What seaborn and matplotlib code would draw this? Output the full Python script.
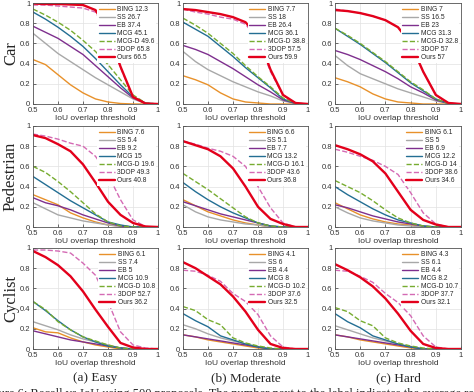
import matplotlib
matplotlib.use("Agg")
import matplotlib.pyplot as plt
import seaborn as sns

# IoU thresholds (x axis)
iou = [0.5, 0.55, 0.6, 0.65, 0.7, 0.75, 0.8, 0.85, 0.9, 0.95, 1.0]

methods = ["BING", "SS", "EB", "MCG", "MCG-D", "3DOP", "Ours"]
classes = ["Car", "Pedestrian", "Cyclist"]
levels = ["(a) Easy", "(b) Moderate", "(c) Hard"]

# recall curves
car_easy = {
    "BING":  [0.44, 0.39, 0.29, 0.19, 0.11, 0.05, 0.02, 0.005, 0.0, 0.0, 0.0],
    "SS":    [0.70, 0.60, 0.50, 0.42, 0.34, 0.26, 0.19, 0.12, 0.05, 0.005, 0.0],
    "EB":    [0.77, 0.71, 0.65, 0.57, 0.49, 0.38, 0.27, 0.16, 0.06, 0.005, 0.0],
    "MCG":   [0.91, 0.84, 0.76, 0.67, 0.57, 0.45, 0.32, 0.19, 0.07, 0.01, 0.0],
    "MCG-D": [0.94, 0.88, 0.81, 0.73, 0.63, 0.52, 0.39, 0.24, 0.09, 0.01, 0.0],
    "3DOP":  [0.98, 0.98, 0.97, 0.96, 0.95, 0.91, 0.71, 0.36, 0.07, 0.005, 0.0],
    "Ours":  [0.995, 0.99, 0.99, 0.985, 0.98, 0.93, 0.73, 0.37, 0.07, 0.005, 0.0],
}
car_moderate = {
    "BING":  [0.28, 0.24, 0.19, 0.11, 0.05, 0.02, 0.01, 0.0, 0.0, 0.0, 0.0],
    "SS":    [0.52, 0.42, 0.34, 0.28, 0.22, 0.17, 0.12, 0.08, 0.03, 0.005, 0.0],
    "EB":    [0.58, 0.54, 0.49, 0.42, 0.35, 0.27, 0.19, 0.12, 0.04, 0.005, 0.0],
    "MCG":   [0.81, 0.74, 0.67, 0.57, 0.47, 0.36, 0.26, 0.16, 0.05, 0.005, 0.0],
    "MCG-D": [0.85, 0.78, 0.70, 0.60, 0.50, 0.38, 0.27, 0.17, 0.06, 0.005, 0.0],
    "3DOP":  [0.94, 0.91, 0.89, 0.86, 0.84, 0.79, 0.64, 0.32, 0.09, 0.01, 0.0],
    "Ours":  [0.94, 0.93, 0.91, 0.89, 0.86, 0.81, 0.67, 0.34, 0.09, 0.01, 0.0],
}
car_hard = {
    "BING":  [0.26, 0.22, 0.17, 0.10, 0.05, 0.02, 0.01, 0.0, 0.0, 0.0, 0.0],
    "SS":    [0.48, 0.38, 0.30, 0.25, 0.20, 0.15, 0.11, 0.07, 0.03, 0.005, 0.0],
    "EB":    [0.53, 0.49, 0.44, 0.38, 0.32, 0.25, 0.17, 0.11, 0.04, 0.005, 0.0],
    "MCG":   [0.75, 0.67, 0.59, 0.50, 0.41, 0.31, 0.21, 0.13, 0.05, 0.005, 0.0],
    "MCG-D": [0.75, 0.68, 0.60, 0.51, 0.42, 0.32, 0.22, 0.14, 0.05, 0.005, 0.0],
    "3DOP":  [0.94, 0.92, 0.90, 0.87, 0.83, 0.76, 0.60, 0.32, 0.09, 0.01, 0.0],
    "Ours":  [0.93, 0.92, 0.90, 0.87, 0.83, 0.76, 0.60, 0.32, 0.09, 0.01, 0.0],
}
pedestrian_easy = {
    "BING":  [0.32, 0.27, 0.22, 0.14, 0.09, 0.05, 0.02, 0.01, 0.0, 0.0, 0.0],
    "SS":    [0.24, 0.18, 0.12, 0.09, 0.06, 0.04, 0.02, 0.005, 0.0, 0.0, 0.0],
    "EB":    [0.29, 0.24, 0.21, 0.17, 0.12, 0.08, 0.04, 0.01, 0.0, 0.0, 0.0],
    "MCG":   [0.50, 0.42, 0.34, 0.26, 0.19, 0.12, 0.05, 0.02, 0.0, 0.0, 0.0],
    "MCG-D": [0.60, 0.54, 0.45, 0.35, 0.24, 0.13, 0.05, 0.01, 0.0, 0.0, 0.0],
    "3DOP":  [0.92, 0.90, 0.87, 0.83, 0.80, 0.70, 0.52, 0.27, 0.07, 0.005, 0.0],
    "Ours":  [0.91, 0.88, 0.82, 0.75, 0.62, 0.44, 0.25, 0.12, 0.04, 0.005, 0.0],
}
pedestrian_moderate = {
    "BING":  [0.27, 0.21, 0.15, 0.11, 0.07, 0.04, 0.02, 0.0, 0.0, 0.0, 0.0],
    "SS":    [0.22, 0.15, 0.10, 0.07, 0.05, 0.03, 0.02, 0.0, 0.0, 0.0, 0.0],
    "EB":    [0.25, 0.21, 0.17, 0.13, 0.10, 0.07, 0.04, 0.01, 0.0, 0.0, 0.0],
    "MCG":   [0.44, 0.35, 0.27, 0.20, 0.14, 0.09, 0.04, 0.01, 0.0, 0.0, 0.0],
    "MCG-D": [0.53, 0.45, 0.37, 0.28, 0.19, 0.10, 0.04, 0.01, 0.0, 0.0, 0.0],
    "3DOP":  [0.85, 0.82, 0.78, 0.75, 0.70, 0.60, 0.40, 0.19, 0.04, 0.0, 0.0],
    "Ours":  [0.85, 0.81, 0.77, 0.70, 0.58, 0.40, 0.20, 0.08, 0.03, 0.0, 0.0],
}
pedestrian_hard = {
    "BING":  [0.24, 0.18, 0.12, 0.08, 0.05, 0.03, 0.02, 0.0, 0.0, 0.0, 0.0],
    "SS":    [0.20, 0.14, 0.09, 0.06, 0.04, 0.02, 0.01, 0.0, 0.0, 0.0, 0.0],
    "EB":    [0.22, 0.19, 0.15, 0.11, 0.08, 0.05, 0.03, 0.01, 0.0, 0.0, 0.0],
    "MCG":   [0.40, 0.32, 0.25, 0.18, 0.12, 0.07, 0.04, 0.01, 0.0, 0.0, 0.0],
    "MCG-D": [0.46, 0.40, 0.34, 0.26, 0.17, 0.09, 0.04, 0.01, 0.0, 0.0, 0.0],
    "3DOP":  [0.77, 0.74, 0.70, 0.66, 0.60, 0.52, 0.34, 0.14, 0.03, 0.0, 0.0],
    "Ours":  [0.81, 0.77, 0.72, 0.65, 0.53, 0.35, 0.17, 0.07, 0.025, 0.0, 0.0],
}
cyclist_easy = {
    "BING":  [0.21, 0.17, 0.16, 0.11, 0.07, 0.04, 0.02, 0.0, 0.0, 0.0, 0.0],
    "SS":    [0.27, 0.23, 0.19, 0.14, 0.10, 0.07, 0.04, 0.01, 0.0, 0.0, 0.0],
    "EB":    [0.18, 0.15, 0.12, 0.09, 0.07, 0.05, 0.03, 0.01, 0.0, 0.0, 0.0],
    "MCG":   [0.47, 0.38, 0.28, 0.19, 0.12, 0.07, 0.03, 0.01, 0.0, 0.0, 0.0],
    "MCG-D": [0.47, 0.39, 0.27, 0.19, 0.12, 0.08, 0.04, 0.01, 0.0, 0.0, 0.0],
    "3DOP":  [0.98, 0.98, 0.97, 0.95, 0.85, 0.73, 0.47, 0.17, 0.04, 0.01, 0.0],
    "Ours":  [0.97, 0.91, 0.83, 0.72, 0.57, 0.39, 0.22, 0.06, 0.015, 0.0, 0.0],
}
cyclist_moderate = {
    "BING":  [0.14, 0.12, 0.09, 0.07, 0.05, 0.03, 0.01, 0.0, 0.0, 0.0, 0.0],
    "SS":    [0.24, 0.20, 0.15, 0.11, 0.08, 0.05, 0.02, 0.0, 0.0, 0.0, 0.0],
    "EB":    [0.14, 0.12, 0.10, 0.08, 0.06, 0.04, 0.02, 0.0, 0.0, 0.0, 0.0],
    "MCG":   [0.35, 0.28, 0.22, 0.13, 0.09, 0.05, 0.02, 0.0, 0.0, 0.0, 0.0],
    "MCG-D": [0.42, 0.38, 0.29, 0.24, 0.11, 0.06, 0.03, 0.01, 0.0, 0.0, 0.0],
    "3DOP":  [0.78, 0.77, 0.73, 0.67, 0.55, 0.47, 0.34, 0.13, 0.02, 0.0, 0.0],
    "Ours":  [0.86, 0.80, 0.72, 0.64, 0.52, 0.37, 0.19, 0.05, 0.01, 0.0, 0.0],
}
cyclist_hard = {
    "BING":  [0.14, 0.12, 0.09, 0.07, 0.05, 0.03, 0.01, 0.0, 0.0, 0.0, 0.0],
    "SS":    [0.23, 0.19, 0.15, 0.11, 0.08, 0.05, 0.02, 0.0, 0.0, 0.0, 0.0],
    "EB":    [0.14, 0.12, 0.10, 0.08, 0.06, 0.04, 0.02, 0.0, 0.0, 0.0, 0.0],
    "MCG":   [0.35, 0.27, 0.21, 0.13, 0.09, 0.05, 0.02, 0.0, 0.0, 0.0, 0.0],
    "MCG-D": [0.41, 0.37, 0.28, 0.23, 0.11, 0.06, 0.03, 0.01, 0.0, 0.0, 0.0],
    "3DOP":  [0.78, 0.77, 0.72, 0.66, 0.55, 0.46, 0.33, 0.13, 0.02, 0.0, 0.0],
    "Ours":  [0.84, 0.78, 0.71, 0.62, 0.50, 0.35, 0.18, 0.05, 0.01, 0.0, 0.0],
}

# average recall shown in the legends (order = methods)
car_ap = [[12.3, 26.7, 37.4, 45.1, 49.6, 65.8, 66.5],
          [7.7, 18, 26.4, 36.1, 38.8, 57.5, 59.9],
          [7, 16.5, 23, 31.3, 32.8, 57, 57]]
pedestrian_ap = [[7.6, 5.4, 9.2, 15, 19.6, 49.3, 40.8],
                 [6.6, 5.1, 7.7, 13.2, 16.1, 43.6, 36.8],
                 [6.1, 5, 6.9, 12.2, 14, 38.6, 34.6]]
cyclist_ap = [[6.1, 7.4, 5, 10.9, 10.8, 52.7, 36.2],
              [4.1, 6, 4.4, 8, 10.2, 37.6, 32.5],
              [4.3, 6.1, 4.4, 8.2, 10.7, 37.7, 32.1]]

curves = [[car_easy, car_moderate, car_hard],
          [pedestrian_easy, pedestrian_moderate, pedestrian_hard],
          [cyclist_easy, cyclist_moderate, cyclist_hard]]
aps = [car_ap, pedestrian_ap, cyclist_ap]

colors = {"BING": "#E8912A", "SS": "#A8A8A8", "EB": "#7E2F8E", "MCG": "#236E93",
          "MCG-D": "#77AC30", "3DOP": "#D46AB4", "Ours": "#E3001B"}
styles = {"BING": "-", "SS": "-", "EB": "-", "MCG": "-",
          "MCG-D": "--", "3DOP": "--", "Ours": "-"}
widths = {"BING": 1.0, "SS": 1.0, "EB": 1.0, "MCG": 1.0,
          "MCG-D": 1.0, "3DOP": 1.0, "Ours": 1.7}

sns.set_style("ticks")
plt.rcParams["font.family"] = ["Liberation Sans", "DejaVu Sans"]

fig = plt.figure(figsize=(4.74, 3.92), dpi=100)
W, H = 474, 392
col_left = [33, 183, 335]
col_w = [125, 125, 126]
row_top = [3, 126, 248]
row_h = 101

for r in range(3):
    for c in range(3):
        rect = [col_left[c] / W, 1 - (row_top[r] + row_h) / H, col_w[c] / W, row_h / H]
        ax = fig.add_axes(rect)
        data = curves[r][c]
        for i, m in enumerate(methods):
            sns.lineplot(x=iou, y=data[m], ax=ax, color=colors[m], linestyle=styles[m],
                         linewidth=widths[m], label=f"{m} {aps[r][c][i]:g}")
        ax.set_xlim(0.5, 1)
        ax.set_ylim(0, 1)
        ax.set_xticks([0.5, 0.6, 0.7, 0.8, 0.9, 1.0])
        ax.set_xticklabels(["0.5", "0.6", "0.7", "0.8", "0.9", "1"])
        ax.set_yticks([0, 0.2, 0.4, 0.6, 0.8, 1.0])
        ax.set_yticklabels(["0", "0.2", "0.4", "0.6", "0.8", "1"])
        ax.tick_params(labelsize=5.5, length=2, width=0.5, direction="in",
                       colors="#333333")
        ax.tick_params(axis="x", pad=2.5)
        ax.tick_params(axis="y", pad=2.0)
        ax.grid(True, color="#E2E2E2", linewidth=0.5)
        for s in ax.spines.values():
            s.set_visible(True)
            s.set_color("#555555")
            s.set_linewidth(0.6)
        ax.set_xlabel("IoU overlap threshold", fontsize=6, labelpad=0.3, color="#333333")
        ax.set_ylabel("")
        ax.legend(loc="upper right", fontsize=4.8, frameon=True, fancybox=False,
                  framealpha=1, edgecolor="none", borderpad=0.2, labelspacing=0.15,
                  handlelength=2.4, handletextpad=0.4, borderaxespad=0.3)

serif = ["Liberation Serif", "DejaVu Serif"]
for r, name in enumerate(classes):
    yc = 1 - (row_top[r] + row_h / 2) / H
    fig.text(11 / W, yc, name, rotation=90, ha="center", va="center",
             fontsize=12, family=serif)
for c, name in enumerate(levels):
    xc = (col_left[c] + col_w[c] / 2) / W
    fig.text(xc, 1 - 378 / H, name, ha="center", va="center", fontsize=9.5, family=serif)

fig.text(-18 / W, 1 - 394 / H,
         "Figure 6: Recall vs IoU using 500 proposals. The number next to the label "
         "indicates the average recall (AR). Note that 3D",
         ha="left", va="center", fontsize=9, family=serif)

fig.savefig("out.png", dpi=100)
